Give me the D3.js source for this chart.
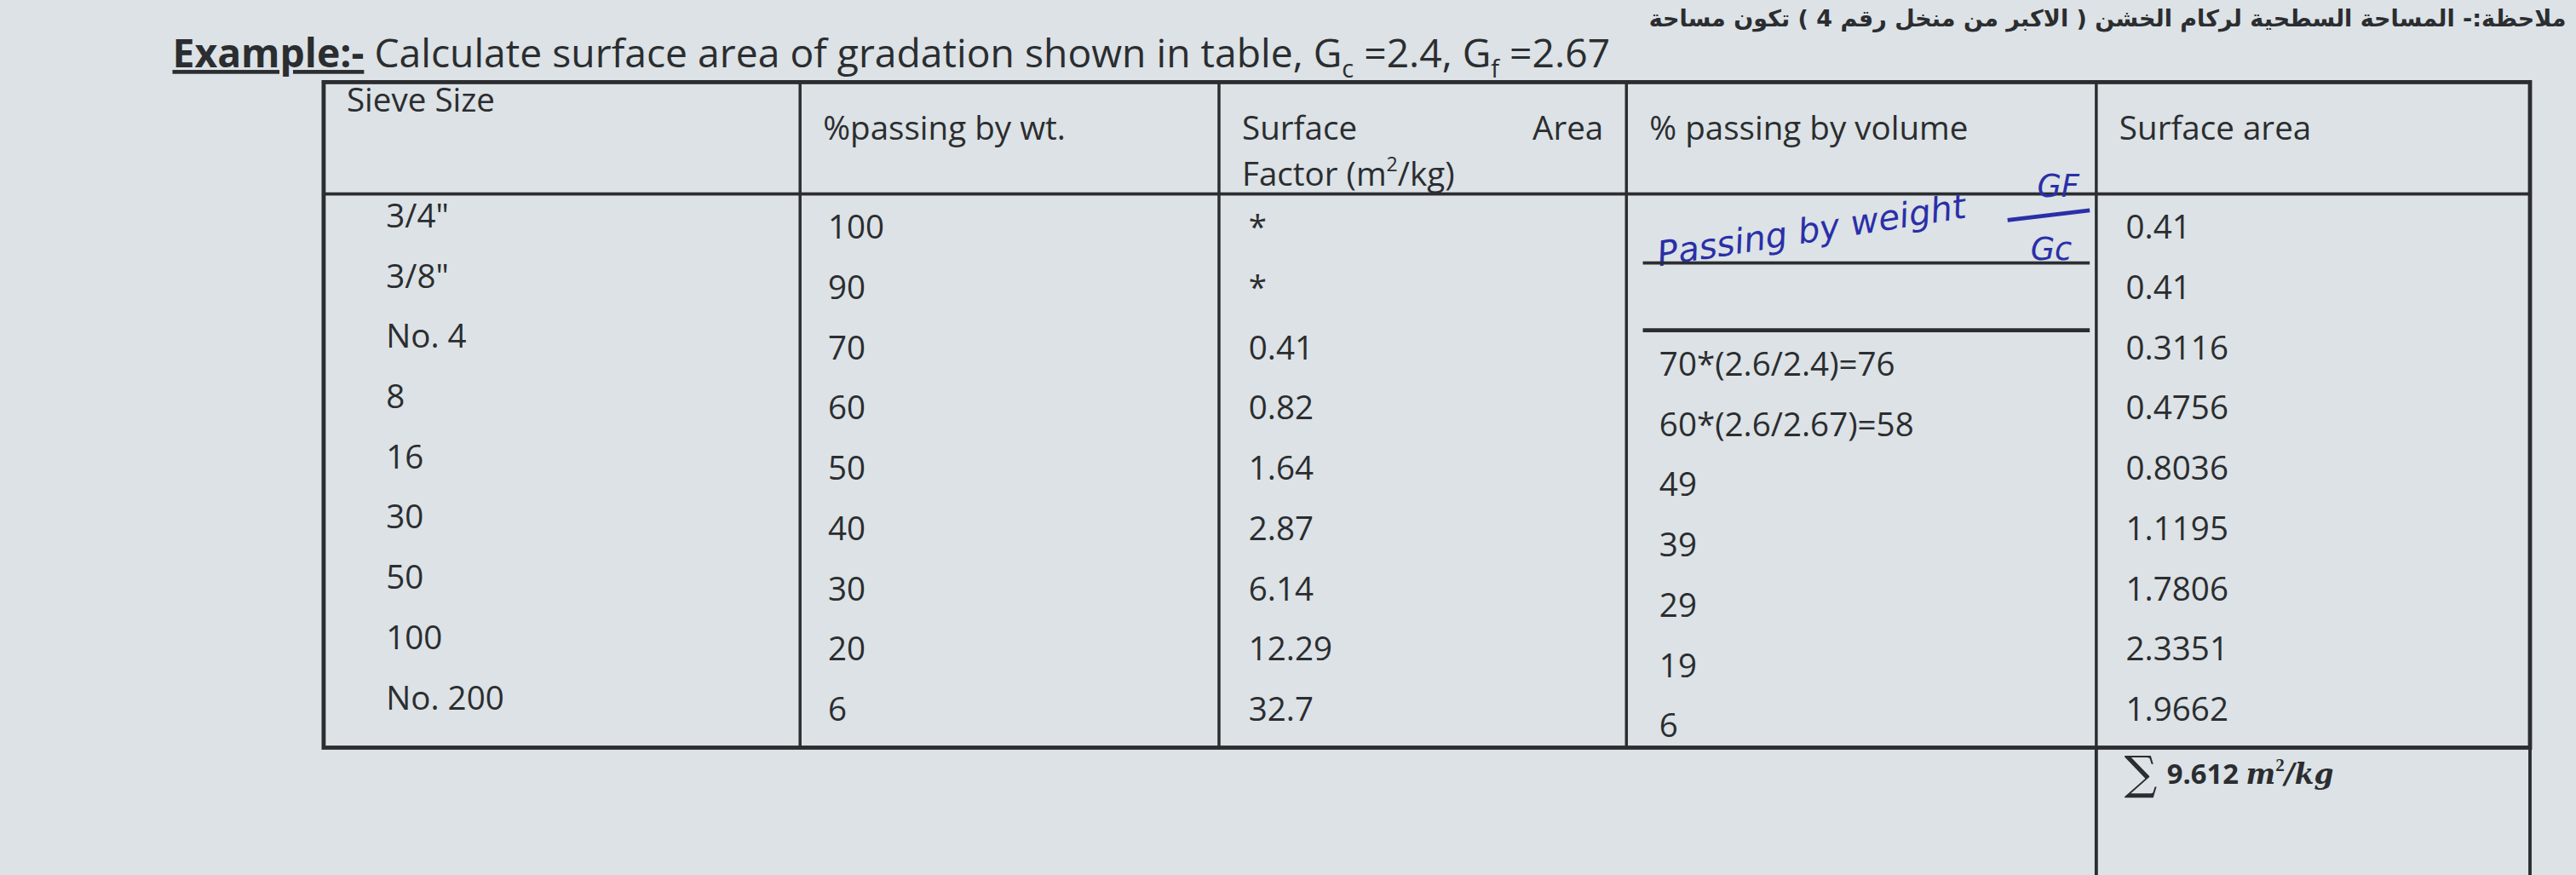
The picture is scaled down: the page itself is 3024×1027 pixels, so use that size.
<!DOCTYPE html>
<html>
<head>
<meta charset="utf-8">
<script src="https://cdn.jsdelivr.net/npm/d3@7"></script>
<style>
  body { margin: 0; background: #dce2e5; overflow: hidden; }
  svg { display: block; }
</style>
</head>
<body>
<svg id="chart"></svg>
<script>
// table data
const sieves = ['3/4"', '3/8"', "No. 4", "8", "16", "30", "50", "100", "No. 200"];
const passingWt = ["100", "90", "70", "60", "50", "40", "30", "20", "6"];
const saFactor = ["*", "*", "0.41", "0.82", "1.64", "2.87", "6.14", "12.29", "32.7"];
const passingVol = ["", "", "70*(2.6/2.4)=76", "60*(2.6/2.67)=58", "49", "39", "29", "19", "6"];
const surfaceArea = ["0.41", "0.41", "0.3116", "0.4756", "0.8036", "1.1195", "1.7806", "2.3351", "1.9662"];
const headers = ["Sieve Size", "%passing by wt.", "Surface", "% passing by volume", "Surface area"];
const totalArea = "9.612";

const W = 3024, H = 1027, k = W / 1568;
const svg = d3.select("#chart").attr("width", W).attr("height", H);
const g = svg.append("g").attr("transform", `scale(${k})`);
const font = "'Open Sans', 'Noto Sans', sans-serif";
const ink = "#2b2d30";

// column edges and row bands
const colEdges = [197, 487, 742, 990, 1276, 1540];
const x = i => colEdges[i];
const tableTop = 50, headBottom = 118, tableBottom = 455;
const y = d3.scaleBand().domain(d3.range(sieves.length)).range([headBottom, 448]);

// arabic header line at the top
g.append("text").attr("x", 1562).attr("y", 16).attr("text-anchor", "end")
  .attr("font-family", "'DejaVu Sans', sans-serif")
  .attr("font-size", 14).attr("font-weight", "bold").attr("fill", ink)
  .text("ملاحظة:- المساحة السطحية لركام الخشن ( الاكبر من منخل رقم 4 ) تكون مساحة");

const title = g.append("text").attr("x", 105).attr("y", 41)
  .attr("font-family", font).attr("font-size", 24).attr("fill", ink);
title.append("tspan").attr("font-weight", "bold").attr("text-decoration", "underline").text("Example:-");
title.append("tspan").text(" Calculate surface area of gradation shown in table, G");
title.append("tspan").attr("font-size", 15).attr("dy", 6).text("c");
title.append("tspan").attr("dy", -6).text(" =2.4, G");
title.append("tspan").attr("font-size", 15).attr("dy", 6).text("f");
title.append("tspan").attr("dy", -6).text(" =2.67");

// grid lines
const lines = g.append("g").attr("stroke", ink);
lines.append("rect").attr("x", x(0)).attr("y", tableTop)
  .attr("width", x(5) - x(0)).attr("height", tableBottom - tableTop)
  .attr("fill", "none").attr("stroke-width", 2.5);
lines.append("line").attr("x1", x(0)).attr("x2", x(5)).attr("y1", headBottom).attr("y2", headBottom).attr("stroke-width", 2);
lines.selectAll(".v").data(d3.range(1, 5)).join("line")
  .attr("x1", x).attr("x2", x).attr("y1", tableTop).attr("y2", tableBottom).attr("stroke-width", 1.8);
// total cell below the table
lines.append("path").attr("fill", "none").attr("stroke-width", 2)
  .attr("d", `M${x(4)},${tableBottom}V533M${x(5)},${tableBottom}V533`);

// header text
const hx = i => x(i) + 14;
g.selectAll(".head").data(headers).join("text")
  .attr("x", (d, i) => hx(i)).attr("y", (d, i) => i === 0 ? 68 : 85)
  .attr("font-family", font).attr("font-size", 20).attr("fill", ink)
  .text(d => d);
g.append("text").attr("x", x(3) - 14).attr("y", 85).attr("text-anchor", "end")
  .attr("font-family", font).attr("font-size", 20).attr("fill", ink).text("Area");
const fac = g.append("text").attr("x", hx(2)).attr("y", 113).attr("font-family", font).attr("font-size", 20).attr("fill", ink);
fac.append("tspan").text("Factor (m");
fac.append("tspan").attr("font-size", 12).attr("dy", -9).text("2");
fac.append("tspan").attr("dy", 9).text("/kg)");

// body cells
function column(data, i, dx, shift) {
  g.selectAll(null).data(data).join("text")
    .attr("x", x(i) + dx).attr("y", (d, j) => y(j) + y.bandwidth() / 2 + 7 + shift)
    .attr("font-family", font).attr("font-size", 20).attr("fill", ink)
    .text(d => d);
}
column(sieves, 0, 38, -5);
column(passingWt, 1, 17, 2);
column(saFactor, 2, 18, 2);
column(passingVol, 3, 20, 12);
column(surfaceArea, 4, 18, 2);

// handwritten note in blue
const blue = "#2a2fa8";
const hand = g.append("g").attr("fill", blue).attr("font-family", "'DejaVu Sans', sans-serif").attr("font-style", "italic");
hand.append("text").attr("x", 1010).attr("y", 162).attr("font-size", 21).attr("transform", "rotate(-9 1010 162)").text("Passing by weight");
hand.append("text").attr("x", 1240).attr("y", 120).attr("font-size", 19).text("GF");
hand.append("text").attr("x", 1236).attr("y", 158).attr("font-size", 19).text("Gc");
g.append("line").attr("x1", 1222).attr("x2", 1272).attr("y1", 134).attr("y2", 128).attr("stroke", blue).attr("stroke-width", 2.5);
g.append("line").attr("x1", 1000).attr("x2", 1272).attr("y1", 160).attr("y2", 160).attr("stroke", ink).attr("stroke-width", 2);
g.append("line").attr("x1", 1000).attr("x2", 1272).attr("y1", 201).attr("y2", 201).attr("stroke", ink).attr("stroke-width", 2.5);

// total
const sum = g.append("text").attr("x", 1293).attr("y", 480).attr("fill", ink);
sum.append("tspan").attr("font-family", "'DejaVu Serif', serif").attr("font-size", 28).text("∑");
sum.append("tspan").attr("dx", 6).attr("dy", -3).attr("font-family", font).attr("font-weight", "bold").attr("font-size", 17).text(totalArea + " ");
sum.append("tspan").attr("font-family", "'DejaVu Serif', serif").attr("font-style", "italic").attr("font-weight", "bold").attr("font-size", 17).text("m");
sum.append("tspan").attr("font-size", 11).attr("dy", -8).attr("font-weight", "bold").text("2");
sum.append("tspan").attr("dy", 8).attr("font-family", "'DejaVu Serif', serif").attr("font-style", "italic").attr("font-weight", "bold").attr("font-size", 17).text("/kg");
</script>
</body>
</html>
